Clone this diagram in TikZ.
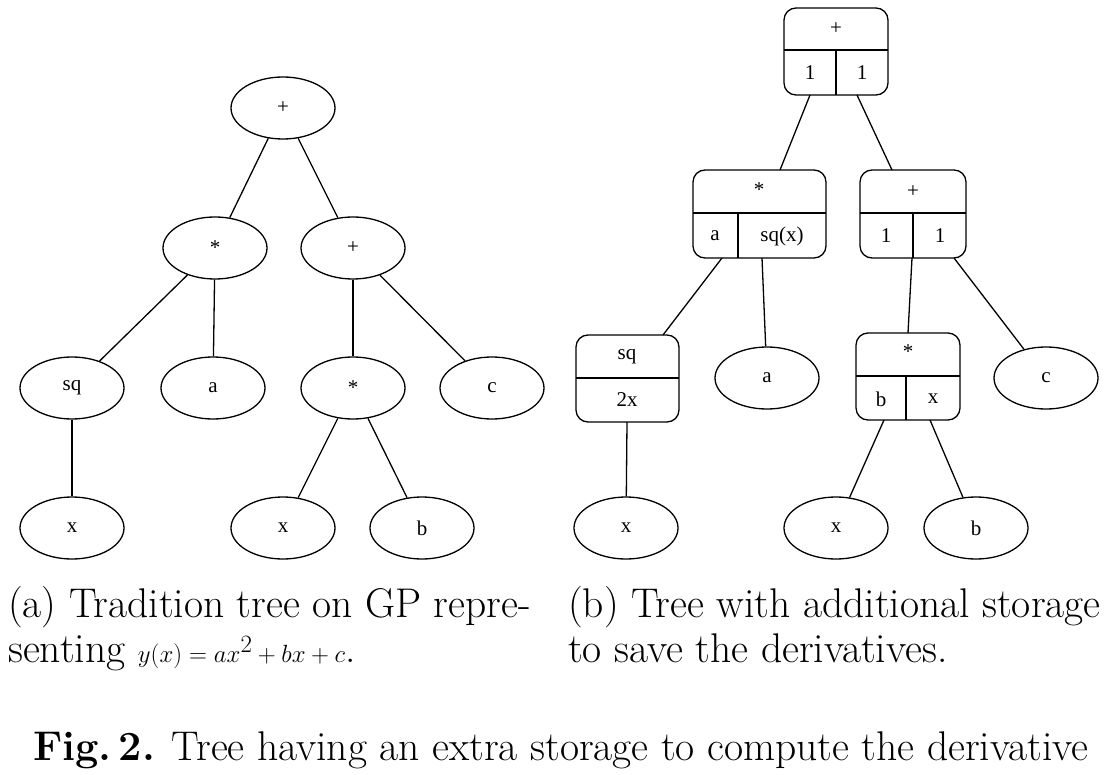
\documentclass[tikz,border=0pt]{standalone}
\usepackage{fontspec}
\newfontfamily\nodefont{Liberation Serif}
\usetikzlibrary{shapes.geometric}
\begin{document}
\begin{tikzpicture}[x=1pt,y=-1pt,
  el/.style={draw,line width=1.3pt,ellipse,minimum width=104pt,minimum height=62pt,inner sep=0pt,font=\nodefont\fontsize{21}{21}\selectfont},
  rec/.style={draw,line width=1.3pt,rounded corners=12pt},
  txt/.style={font=\nodefont\fontsize{21}{21}\selectfont,inner sep=0pt},
  captext/.style={anchor=base west,inner sep=0pt,font=\fontsize{41.5}{45}\selectfont},
  ed/.style={line width=1.3pt}]
\useasboundingbox (0,0) rectangle (1113,775);
% left tree
\node[el] (p1) at (283,108) {+};
\node[el] (m1) at (215,248) {*};
\node[el] (p2) at (353,248) {+};
\node[el] (sq) at (72,388) {sq};
\node[el] (a1) at (213,388) {a};
\node[el] (m2) at (353,388) {*};
\node[el] (c1) at (492,388) {c};
\node[el] (x1) at (72,528) {x};
\node[el] (x2) at (283,528) {x};
\node[el] (b1) at (422,528) {b};
\foreach \u/\v in {p1/m1,p1/p2,m1/sq,m1/a1,p2/m2,p2/c1,sq/x1,m2/x2,m2/b1}
  \draw[ed] (\u) -- (\v);
% right tree records
\draw[rec] (784,8) rectangle (888,95);
\draw[ed] (784,50) -- (888,50) (836,50) -- (836,95);
\node[txt] (rp) at (836,29) {+};
\node[txt] (rl) at (810,73) {1};
\node[txt] (rr) at (862,73) {1};
\draw[rec] (693,170) rectangle (826,258);
\draw[ed] (693,213) -- (826,213) (738,213) -- (738,258);
\node[txt] (mt) at (759,190) {*};
\node[txt] (ml) at (715,236) {a};
\node[txt] (mr) at (782,236) {sq(x)};
\draw[rec] (860,170) rectangle (966,258);
\draw[ed] (860,213) -- (966,213) (913,213) -- (913,258);
\node[txt] (pt) at (913,192) {+};
\node[txt] (pl) at (886,236) {1};
\node[txt] (pr) at (940,236) {1};
\draw[rec] (576,335) rectangle (679,422);
\draw[ed] (576,378) -- (679,378);
\node[txt] (st) at (627,357) {sq};
\node[txt] (sb) at (627,400) {2x};
\draw[rec] (856,333) rectangle (960,420);
\draw[ed] (856,376) -- (960,376) (906,376) -- (906,420);
\node[txt] (nt) at (908,352) {*};
\node[txt] (nl) at (881,399) {b};
\node[txt] (nr) at (933,399) {x};
\node[el] (a2) at (767,378) {a};
\node[el] (c2) at (1046,378) {c};
\node[el] (x3) at (626,528) {x};
\node[el] (x4) at (836,528) {x};
\node[el] (b2) at (976,528) {b};
\coordinate (e1a) at (810,95); \coordinate (e1b) at (780,170);
\coordinate (e2a) at (857,95); \coordinate (e2b) at (892,170);
\coordinate (e3a) at (722,258); \coordinate (e3b) at (663,335);
\coordinate (e4a) at (762,258);
\coordinate (e5a) at (912,258); \coordinate (e5b) at (908,333);
\coordinate (e6a) at (954,258);
\coordinate (e7a) at (627,422);
\coordinate (e8a) at (884,420); \coordinate (e9a) at (930,420);
\draw[ed] (e1a) -- (e1b);
\draw[ed] (e2a) -- (e2b);
\draw[ed] (e3a) -- (e3b);
\draw[ed] (e4a) -- (a2);
\draw[ed] (e5a) -- (e5b);
\draw[ed] (e6a) -- (c2);
\draw[ed] (e7a) -- (x3);
\draw[ed] (e8a) -- (x4);
\draw[ed] (e9a) -- (b2);
% captions
\node[captext] (ca1) at (8,617) {(a) Tradition tree on GP repre-};
\node[captext] (ca2) at (8,662) {senting $y(x)=ax^2+bx+c$.};
\node[captext] (cb1) at (568,617) {(b) Tree with additional storage};
\node[captext] (cb2) at (568,662) {to save the derivatives.};
\node[captext] (fig) at (33,760) {\textbf{Fig.\,2.} Tree having an extra storage to compute the derivative};
\end{tikzpicture}
\end{document}
